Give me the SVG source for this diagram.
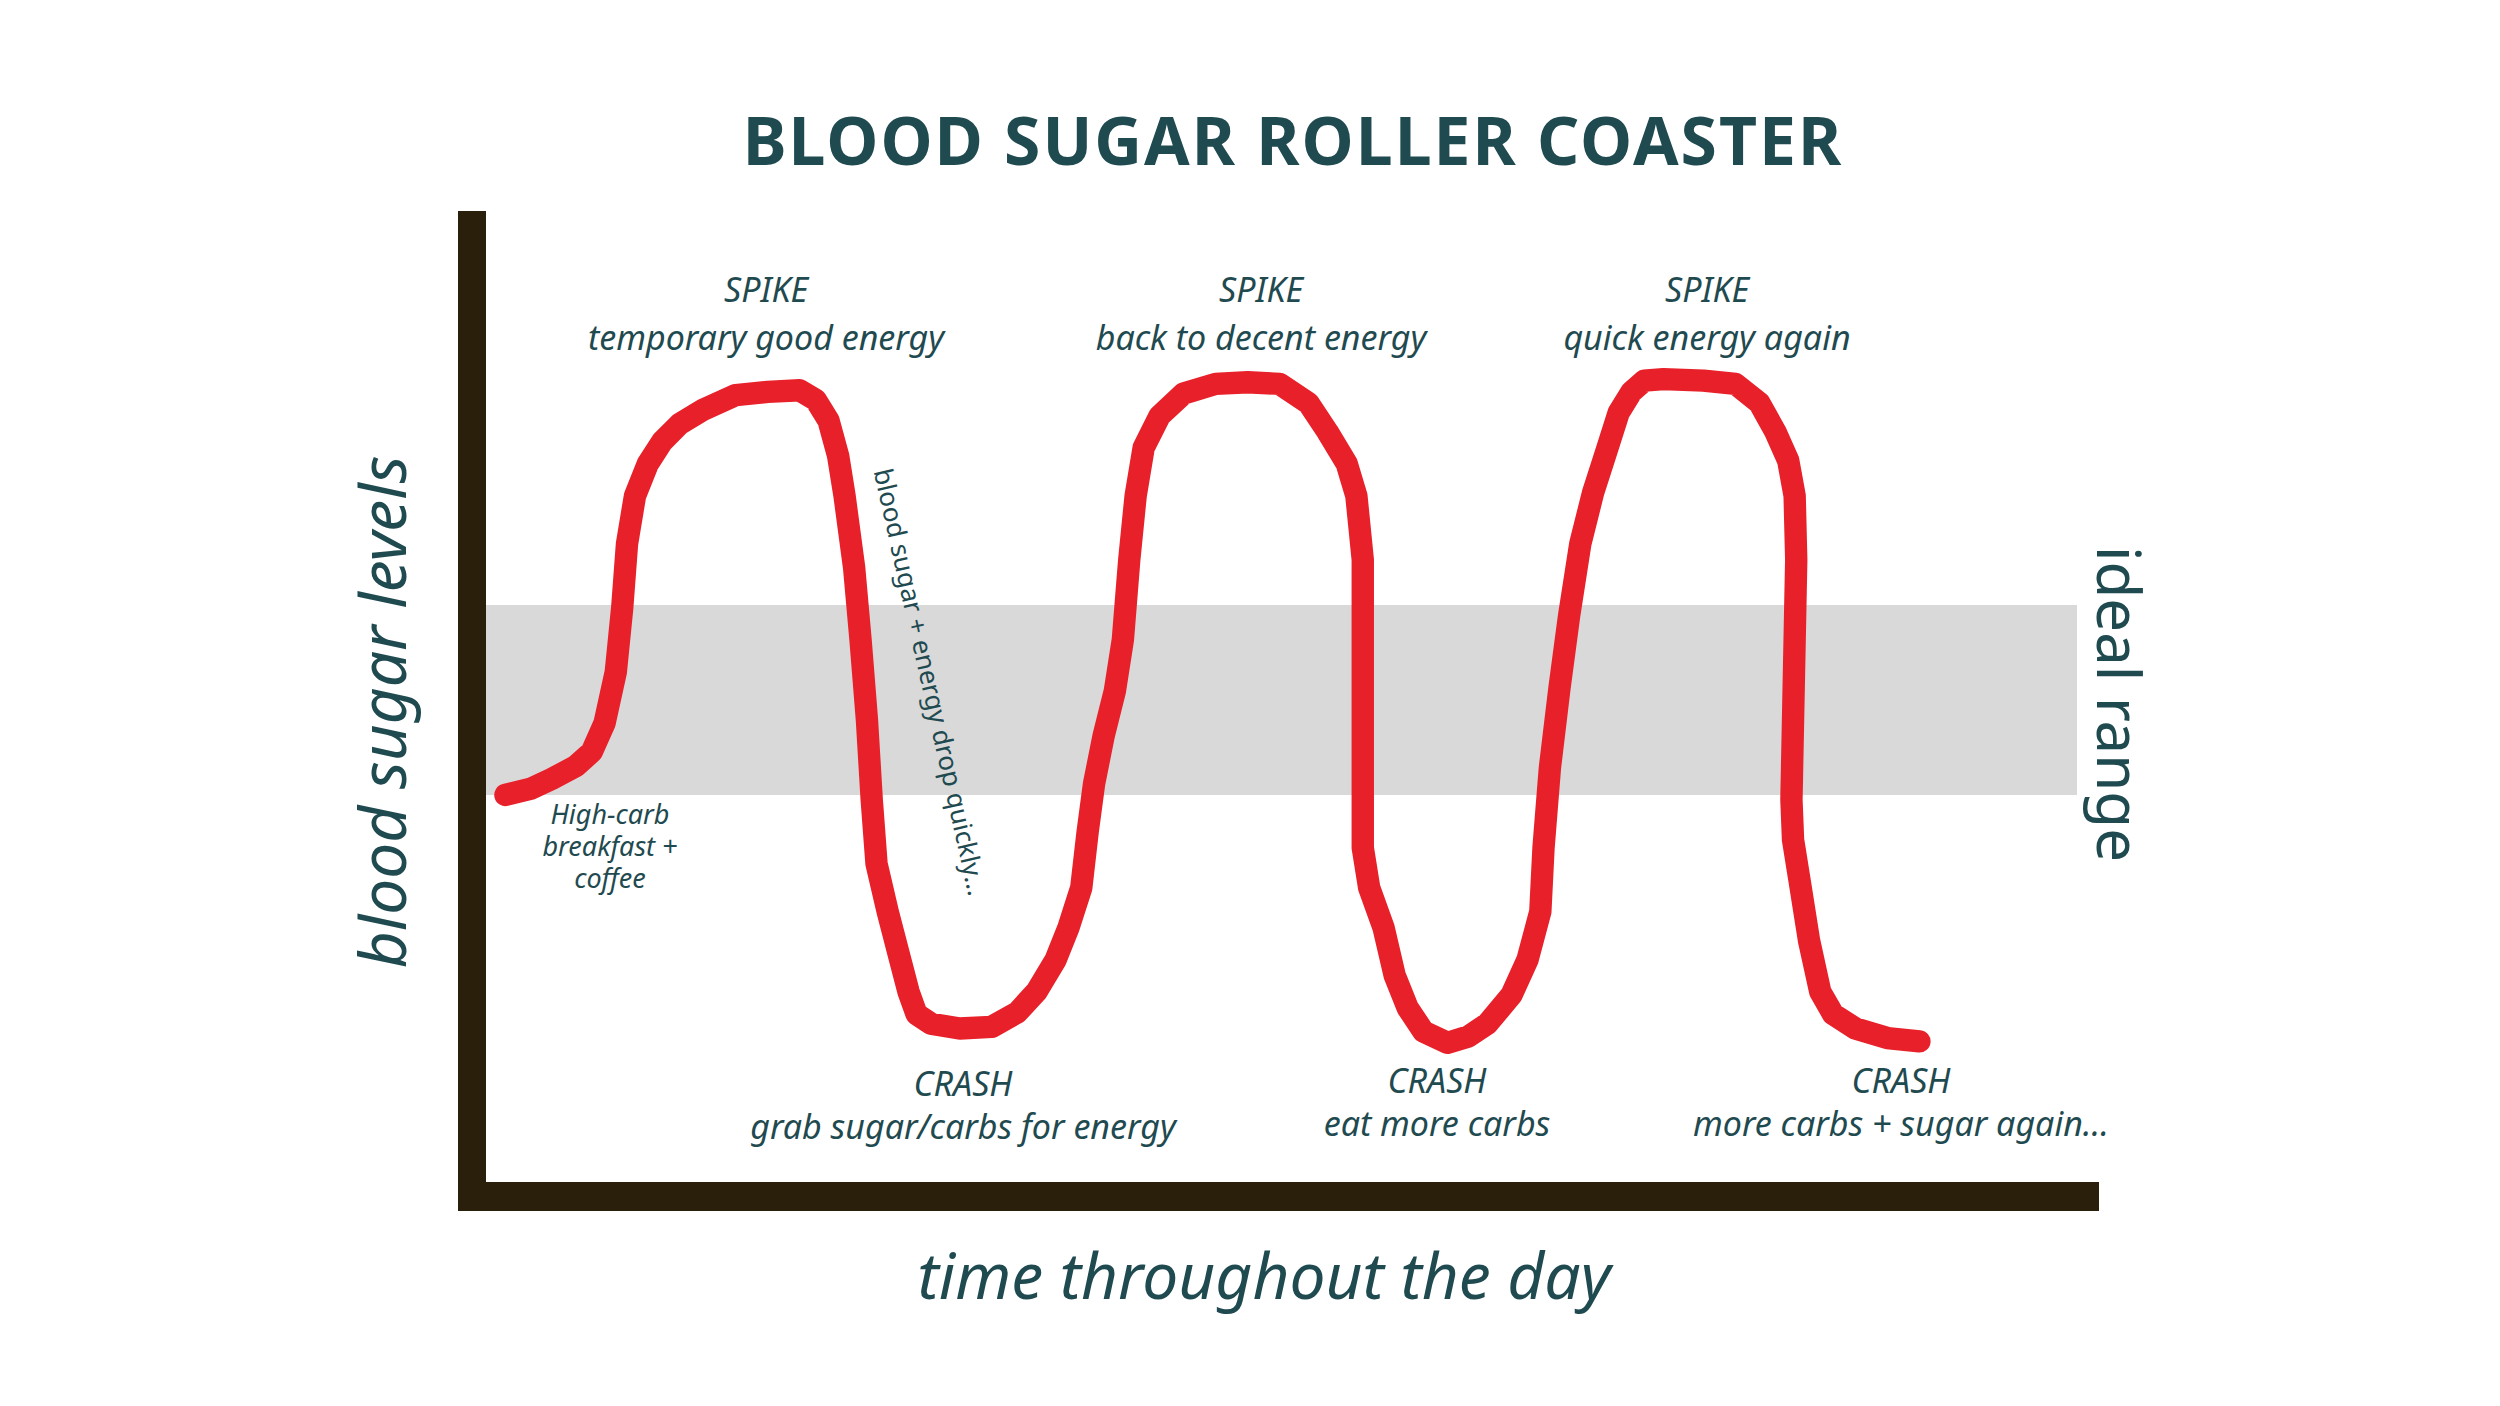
<svg xmlns="http://www.w3.org/2000/svg" width="2500" height="1406" viewBox="0 0 2500 1406">
<style>
text{font-family:"Noto Sans","Open Sans",sans-serif;fill:#1f4a50;text-anchor:middle}
.lbl{font-size:34px;font-style:italic}
.big{font-size:64px;font-style:italic}
.sm{font-size:27px;font-style:italic}
</style>
<rect width="2500" height="1406" fill="#fff"/>
<g id="band"><rect x="486" y="605" width="1591" height="190" fill="#d9d9d9"/></g>
<g id="axes" fill="#2a1f0a">
<rect x="458" y="211" width="28" height="1000"/>
<rect x="458" y="1182" width="1641" height="29"/>
</g>
<text x="1293" y="165" font-size="66" font-weight="bold" style="font-style:normal;letter-spacing:2px">BLOOD SUGAR ROLLER COASTER</text>
<g id="connectors">
<polyline transform="scale(1.5995)" fill="none" stroke="#e8202a" stroke-width="14" stroke-linecap="round" stroke-linejoin="round" points="316,497 332,493 345,487 360,479 370,470 378,452 385,420 389,380 392,340 397,310 405,290 414,276 425,265 440,256 460,247 480,245 500,244 510,250 518,263 524,285 528,310 534,355 538,400 542,450 545,500 548,540 555,570 562,597 568,620 573,634 582,640 600,643 620,642 636,633 648,620 660,600 668,580 676,555 680,520 684,490 690,460 697,432 702,400 706,350 710,310 715,280 725,260 740,246 760,240 780,239 800,240 818,252 830,270 842,290 848,310 852,350 852,400 852,470 852,530 856,555 865,580 872,610 880,630 890,645 905,652 918,648 930,640 945,622 955,600 963,570 965,530 969,480 975,430 981,385 988,340 996,308 1005,280 1012,258 1020,245 1028,238 1040,237 1065,238 1085,240 1100,252 1110,270 1118,288 1122,310 1123,350 1122,400 1121,450 1120,500 1121,525 1125,550 1131,588 1138,620 1146,634 1160,643 1180,649 1200,651"/>
</g>
<g id="spike1"><text class="lbl" x="766" y="302">SPIKE</text><text class="lbl" x="766" y="350">temporary good energy</text></g>
<g id="spike2"><text class="lbl" x="1261" y="302">SPIKE</text><text class="lbl" x="1261" y="350">back to decent energy</text></g>
<g id="spike3"><text class="lbl" x="1707" y="302">SPIKE</text><text class="lbl" x="1707" y="350">quick energy again</text></g>
<g id="crash1"><text class="lbl" x="963" y="1096">CRASH</text><text class="lbl" x="963" y="1139">grab sugar/carbs for energy</text></g>
<g id="crash2"><text class="lbl" x="1437" y="1093">CRASH</text><text class="lbl" x="1437" y="1136">eat more carbs</text></g>
<g id="crash3"><text class="lbl" x="1901" y="1093">CRASH</text><text class="lbl" x="1901" y="1136">more carbs + sugar again...</text></g>
<g id="breakfast"><text class="sm" x="610" y="824">High-carb</text><text class="sm" x="610" y="856">breakfast +</text><text class="sm" x="610" y="888">coffee</text></g>
<g id="drop"><text class="sm" transform="translate(930,682) rotate(77.4)" y="9" style="font-style:normal;font-size:26px">blood sugar + energy drop quickly...</text></g>
<g id="ylabel"><text class="big" transform="translate(384,712) rotate(-90)" y="22">blood sugar levels</text></g>
<g id="ideal"><text class="big" transform="translate(2118,704) rotate(90)" y="21" style="font-style:normal;font-size:60px">ideal range</text></g>
<g id="xlabel"><text class="big" x="1264" y="1299">time throughout the day</text></g>
</svg>
